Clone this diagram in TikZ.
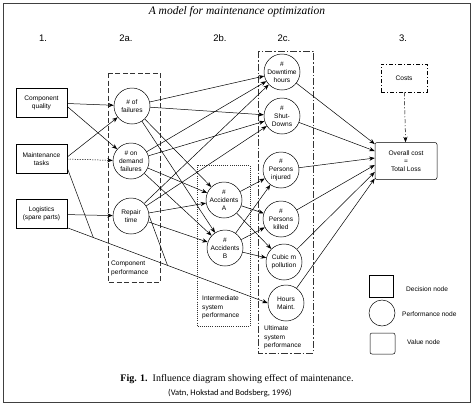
\documentclass[tikz,border=0pt]{standalone}
\usepackage{fontspec}
\setmainfont{Liberation Serif}
\setsansfont{Liberation Sans}
\newfontfamily\calibfont{Carlito}
\usetikzlibrary{arrows.meta,calc}
\newcommand\ndfont{\sffamily\fontsize{6.6}{8.2}\selectfont}
\tikzset{
  perf/.style={circle, draw, line width=0.5pt, minimum size=36pt, inner sep=0pt, align=center, font=\ndfont},
  dec/.style={rectangle, draw, line width=0.5pt, minimum width=51pt, minimum height=29pt, inner sep=1pt, align=center, font=\ndfont},
  valnode/.style={rectangle, rounded corners=2pt, draw, line width=0.5pt, align=center, font=\ndfont},
  arr/.style={-{Stealth[length=5.5pt,width=4.2pt]}, line width=0.5pt},
  plainline/.style={line width=0.5pt},
  grpframe/.style={line width=0.5pt, black!80},
  grplbl/.style={font=\ndfont, align=left, anchor=north west, inner sep=0pt},
  collbl/.style={font=\sffamily\fontsize{9.5}{10}\selectfont},
  legtext/.style={font=\ndfont, anchor=west, inner sep=0pt},
}
\begin{document}
\begin{tikzpicture}[x=1pt,y=-1pt]
\useasboundingbox (0,0) rectangle (474,408);
\draw[line width=1pt, black!75] (3,3) rectangle (470,402);

% title and column labels
\node[font=\itshape\fontsize{11.5}{13}\selectfont] (title) at (237,12) {A model for maintenance optimization};
\node[collbl] (c1) at (43,38) {1.};
\node[collbl] (c2a) at (126,38) {2a.};
\node[collbl] (c2b) at (220,38) {2b.};
\node[collbl] (c2c) at (284,38) {2c.};
\node[collbl] (c3) at (403,38) {3.};

% group frames
\draw[grpframe, dash pattern=on 5pt off 2.5pt] (108,73) rectangle (160,282);
\draw[grpframe, dash pattern=on 0.7pt off 1.4pt] (197,165) rectangle (250,326);
\draw[grpframe, dash pattern=on 7pt off 2pt on 1.5pt off 2pt] (258,51) rectangle (313,353);
\node[grplbl] (g2a) at (111,261) {Component\\performance};
\node[grplbl] (g2b) at (202,296) {Intermediate\\system\\performance};
\node[grplbl] (g2c) at (264,326) {Ultimate\\system\\performance};

% decision nodes
\node[dec] (cq) at (41.5,102.5) {Component\\quality};
\node[dec] (mt) at (41.5,159) {Maintenance\\tasks};
\node[dec] (lg) at (41.5,214) {Logistics\\(spare parts)};

% performance nodes
\node[perf] (fail) at (132,106) {\#\ of\\failures};
\node[perf] (ond) at (131,161) {\#\ on\\demand\\failures};
\node[perf] (rep) at (131,216) {Repair\\time};
\node[perf] (accA) at (224,200) {\#\\Accidents\\A};
\node[perf] (accB) at (225,248) {\#\\Accidents\\B};
\node[perf] (dt) at (282,72) {\#\\Downtime\\hours};
\node[perf] (sd) at (282,116) {\#\\Shut-\\Downs};
\node[perf] (inj) at (281,170) {\#\\Persons\\injured};
\node[perf] (kil) at (281,219) {\#\\Persons\\killed};
\node[perf] (pol) at (284,262) {Cubic m\\pollution};
\node[perf] (hm) at (286,303) {Hours\\Maint.};

% value nodes
\node[rectangle, draw, line width=0.5pt, dash pattern=on 4pt off 2pt on 1pt off 2pt, minimum width=46pt, minimum height=28pt, font=\ndfont] (costs) at (404,78) {Costs};
\node[valnode, minimum width=62pt, minimum height=37pt] (ov) at (406,161) {Overall cost\\=\\Total Loss};

% inputs
\draw[arr] (cq) -- (fail);
\draw[arr] ([yshift=-4pt]cq.east) -- (ond);
\draw[arr] ([yshift=2pt]mt.east) -- (fail);
\draw[arr, dash pattern=on 1.2pt off 1.3pt] (mt.east) -- (ond);
\draw[arr] (lg) -- (rep);
\draw[arr] ([yshift=1pt]lg.south east) -- (hm.west);
\coordinate (j1) at ($([yshift=1pt]lg.south east)!0.13!(hm.west)$);
\coordinate (j2) at ($([yshift=1pt]lg.south east)!0.5!(hm.west)$);
\draw[plainline] ([yshift=-9pt]mt.east) -- (j1);
\draw[plainline] (rep.east) -- (j2);

% 2a -> 2b / 2c
\foreach \s in {fail,ond,rep}{
  \draw[arr] (\s) -- (dt);
  \draw[arr] (\s) -- (sd);
  \draw[arr] (\s) -- (accA);
  \draw[arr] (\s) -- (accB);
}
% 2b -> 2c
\foreach \s in {accA,accB}{
  \draw[arr] (\s) -- (inj);
  \draw[arr] (\s) -- (kil);
  \draw[arr] (\s) -- (pol);
}
% 2c -> overall
\draw[arr] (dt) -- ([yshift=17pt]ov.west);
\draw[arr] (sd) -- ([yshift=10pt]ov.west);
\draw[arr] (inj) -- ([yshift=3pt]ov.west);
\draw[arr] (kil) -- ([yshift=-4pt]ov.west);
\draw[arr] (pol) -- ([yshift=-11pt]ov.west);
\draw[arr] (hm) -- ([yshift=-17.5pt]ov.west);
\draw[arr, dash pattern=on 4pt off 2pt on 1pt off 2pt] (costs) -- (ov);

% legend
\node[rectangle, draw, line width=0.5pt, minimum width=24pt, minimum height=22pt] (ld) at (381,286) {};
\node[circle, draw, line width=0.5pt, minimum size=26pt] (lp) at (382,313) {};
\node[rectangle, rounded corners=2pt, draw, line width=0.5pt, minimum width=25pt, minimum height=21pt] (lv) at (382.5,343.5) {};
\node[legtext] (ldt) at (406,289) {Decision node};
\node[legtext] (lpt) at (402,314) {Performance node};
\node[legtext] (lvt) at (407,342) {Value node};

% caption
\node[font=\fontsize{10}{12}\selectfont] (cap) at (237,379) {\textbf{Fig. 1.}\ \ Influence diagram showing effect of maintenance.};
\node[font=\calibfont\fontsize{8.5}{10}\selectfont] (src) at (230,393) {(Vatn, Hokstad and Bodsberg, 1996)};
\end{tikzpicture}
\end{document}
